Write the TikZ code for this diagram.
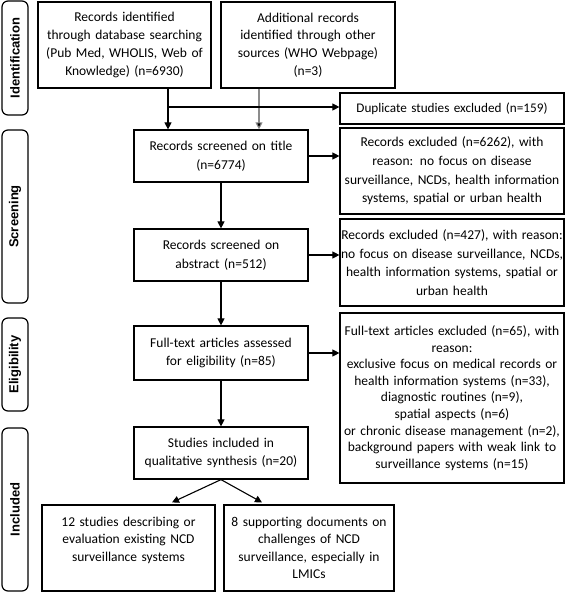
\documentclass[tikz,border=0pt]{standalone}
\usepackage{fontspec}
\setmainfont{Carlito}
\newfontfamily\labelfont{Liberation Sans}
\usetikzlibrary{arrows.meta}
\begin{document}
\begin{tikzpicture}[x=1pt,y=-1pt,
  box/.style={draw, line width=1.2pt, align=center, inner sep=0pt, font=\fontsize{13.5}{18.7}\selectfont},
  stage/.style={draw, line width=1.2pt, rounded corners=6pt, inner sep=0pt, minimum height=26pt, font=\labelfont\bfseries\fontsize{13}{15}\selectfont, rotate=90},
  arr/.style={line width=1.1pt, -{Triangle[length=7pt,width=7pt]}},
  grayarr/.style={arr, draw=gray!90, -{Triangle[length=7pt,width=7pt,fill=black]}},
]
\useasboundingbox (0,0) rectangle (567,593);
% stage labels
\node[stage, minimum width=114pt] (sid) at (15,58) {Identification};
\node[stage, minimum width=173pt] (ssc) at (15,216.5) {Screening};
\node[stage, minimum width=93pt] (sel) at (15,364.5) {Eligibility};
\node[stage, minimum width=163pt] (sin) at (15,509.5) {Included};
% boxes
\node[box, text width=173pt, minimum height=86pt, font=\fontsize{13.5}{17.7}\selectfont] (b1) at (124.5,45) {Records identified\\through database searching\\(Pub Med, WHOLIS, Web of\\Knowledge) (n=6930)};
\node[box, text width=174pt, minimum height=86pt, font=\fontsize{13.5}{17.7}\selectfont] (b2) at (308,45) {Additional records\\identified through other\\sources (WHO Webpage)\\(n=3)};
\node[box, text width=224pt, minimum height=31pt, font=\fontsize{13.2}{15}\selectfont] (dup) at (452,108.5) {Duplicate studies excluded (n=159)};
\node[box, text width=174pt, minimum height=52pt] (title) at (221,156) {Records screened on title\\(n=6774)};
\node[box, text width=224pt, minimum height=86pt] (ex1) at (452,171) {Records excluded (n=6262), with\\reason: no focus on disease\\surveillance, NCDs, health information\\systems, spatial or urban health};
\node[box, text width=174pt, minimum height=52pt] (abs) at (221,255) {Records screened on\\abstract (n=512)};
\node[box, text width=224pt, minimum height=87pt] (ex2) at (452,262.5) {Records excluded (n=427), with reason:\\no focus on disease surveillance, NCDs,\\health information systems, spatial or\\urban health};
\node[box, text width=174pt, minimum height=54pt] (elig) at (221,353) {Full-text articles assessed\\for eligibility (n=85)};
\node[box, text width=224pt, minimum height=170pt, font=\fontsize{13.5}{16.6}\selectfont] (ex3) at (452,398) {Full-text articles excluded (n=65), with\\reason:\\exclusive focus on medical records or\\health information systems (n=33),\\diagnostic routines (n=9),\\spatial aspects (n=6)\\or chronic disease management (n=2),\\background papers with weak link to\\surveillance systems (n=15)};
\node[box, text width=174pt, minimum height=52pt] (stud) at (221,453) {Studies included in\\qualitative synthesis (n=20)};
\node[box, text width=173pt, minimum height=86pt, font=\fontsize{13.5}{17.5}\selectfont] (c1) at (128.5,548) {12 studies describing or\\evaluation existing NCD\\surveillance systems\\\mbox{}};
\node[box, text width=170pt, minimum height=86pt, font=\fontsize{13.5}{17.5}\selectfont] (c2) at (309,548) {8 supporting documents on\\challenges of NCD\\surveillance, especially in\\LMICs};
% connectors
\coordinate (a1) at ([xshift=43.5pt]b1.south);
\coordinate (a2) at ([xshift=-49pt]b2.south);
\coordinate (t1) at ([xshift=43.5pt,yshift=2pt]c1.north);
\coordinate (t2) at ([xshift=-47pt,yshift=2pt]c2.north);
\draw[arr] (a1) -- (a1 |- title.north);
\draw[grayarr] (a2) -- (a2 |- title.north);
\draw[arr] (a1 |- 0,107) -- (dup.west |- 0,107);
\draw[arr] (title.east) -- (title.east -| ex1.west);
\draw[arr] (title.south) -- (abs.north);
\draw[arr] (abs.east) -- (abs.east -| ex2.west);
\draw[arr] (abs.south) -- (elig.north);
\draw[arr] (elig.east) -- (elig.east -| ex3.west);
\draw[arr] (elig.south) -- (stud.north);
\draw[arr] (stud.south) -- (t1);
\draw[arr] (stud.south) -- (t2);
\end{tikzpicture}
\end{document}
